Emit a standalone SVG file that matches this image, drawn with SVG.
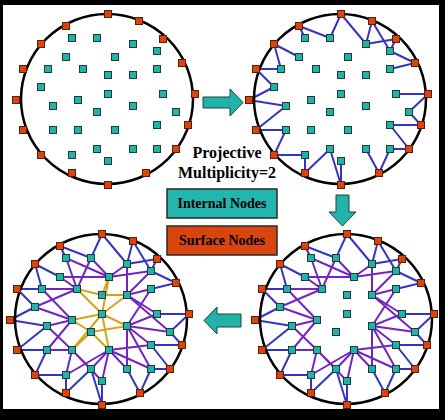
<svg xmlns="http://www.w3.org/2000/svg" width="445" height="420" viewBox="0 0 445 420">
<style>
.t{fill:#21b3a6;stroke:#1c3b3a;stroke-width:1}
.s{fill:#d9440f;stroke:#5a1e05;stroke-width:1}
.rim{fill:none;stroke:#000;stroke-width:2.5}
.b{fill:none;stroke:#3434c4;stroke-width:2}
.p{fill:none;stroke:#7424c4;stroke-width:2}
.y{fill:none;stroke:#d6a41c;stroke-width:2}
.arw{fill:#22b3a8;stroke:#1c4040;stroke-width:1}
.lab{font-family:"Liberation Serif","Times New Roman",serif;font-weight:bold;fill:#000}
.box{stroke:#2a2a2a;stroke-width:1.5}
</style>
<defs>
<rect id="tn" class="t" x="-3.5" y="-3.5" width="7" height="7"/>
<rect id="sn" class="s" x="-3.5" y="-3.5" width="7" height="7"/>
<g id="internal">
<use id="i0" href="#tn" x="72" y="38"/><use id="i1" href="#tn" x="97" y="38"/><use id="i2" href="#tn" x="133" y="44"/><use id="i3" href="#tn" x="157" y="51"/>
<use id="i4" href="#tn" x="66" y="57"/><use id="i5" href="#tn" x="115" y="57"/><use id="i6" href="#tn" x="48" y="69"/><use id="i7" href="#tn" x="83" y="69"/>
<use id="i8" href="#tn" x="108" y="75"/><use id="i9" href="#tn" x="133" y="75"/><use id="i10" href="#tn" x="157" y="69"/><use id="i11" href="#tn" x="41" y="87"/>
<use id="i12" href="#tn" x="108" y="94"/><use id="i13" href="#tn" x="163" y="94"/><use id="i14" href="#tn" x="78" y="100"/><use id="i15" href="#tn" x="53" y="106"/>
<use id="i16" href="#tn" x="133" y="106"/><use id="i17" href="#tn" x="97" y="112"/><use id="i18" href="#tn" x="176" y="112"/><use id="i19" href="#tn" x="53" y="130"/>
<use id="i20" href="#tn" x="78" y="130"/><use id="i21" href="#tn" x="115" y="130"/><use id="i22" href="#tn" x="157" y="125"/><use id="i23" href="#tn" x="97" y="149"/>
<use id="i24" href="#tn" x="133" y="149"/><use id="i25" href="#tn" x="157" y="149"/><use id="i26" href="#tn" x="72" y="155"/><use id="i27" href="#tn" x="108" y="161"/>
</g>
<g id="surface">
<use id="s0" href="#sn" x="108" y="14"/><use id="s1" href="#sn" x="139" y="21"/><use id="s2" href="#sn" x="163" y="39"/><use id="s3" href="#sn" x="182" y="63"/>
<use id="s4" href="#sn" x="195" y="94"/><use id="s5" href="#sn" x="188" y="125"/><use id="s6" href="#sn" x="176" y="149"/><use id="s7" href="#sn" x="146" y="173"/>
<use id="s8" href="#sn" x="108" y="185"/><use id="s9" href="#sn" x="72" y="173"/><use id="s10" href="#sn" x="41" y="155"/><use id="s11" href="#sn" x="23" y="130"/>
<use id="s12" href="#sn" x="16" y="100"/><use id="s13" href="#sn" x="23" y="69"/><use id="s14" href="#sn" x="41" y="44"/><use id="s15" href="#sn" x="66" y="26"/>
</g>
<ellipse id="rim" class="rim" cx="107" cy="99" rx="86" ry="85"/>
<path id="blue" class="b" d="M108 14L97 38M108 14L133 44M139 21L133 44M139 21L157 51M163 39L157 51M163 39L133 44M182 63L157 51M182 63L157 69M195 94L163 94M195 94L176 112M188 125L176 112M188 125L157 125M176 149L157 125M176 149L157 149M146 173L157 149M146 173L133 149M108 185L108 161M108 185L97 149M72 173L72 155M72 173L97 149M41 155L72 155M41 155L53 130M23 130L53 130M23 130L53 106M16 100L53 106M16 100L41 87M23 69L41 87M23 69L48 69M41 44L48 69M41 44L66 57M66 26L72 38M66 26L97 38"/>
<path id="purple" class="p" d="M72 38L83 69M72 38L115 57M97 38L115 57M97 38L83 69M133 44L115 57M133 44L133 75M157 51L133 75M157 51L115 57M66 57L83 69M66 57L115 57M48 69L83 69M48 69L78 100M157 69L133 75M157 69L133 106M41 87L83 69M41 87L78 100M163 94L133 106M163 94L133 75M53 106L78 100M53 106L78 130M176 112L133 106M176 112L133 75M53 130L78 130M53 130L78 100M157 125L133 106M157 125L115 130M97 149L115 130M97 149L78 130M133 149L115 130M133 149L133 106M157 149L115 130M157 149L133 106M72 155L78 130M72 155L115 130M108 161L115 130M108 161L78 130"/>
<path id="yellow" class="y" d="M115 57L108 75M115 57L108 94M83 69L108 75M83 69L108 94M133 75L108 75M133 75L108 94M78 100L97 112M78 100L108 94M133 106L108 94M133 106L97 112M78 130L97 112M78 130L108 94M115 130L97 112M115 130L108 94"/>
</defs>
<rect x="0" y="0" width="445" height="420" fill="#000"/>
<rect x="3" y="5" width="436" height="404" fill="#fff"/>
<g id="connectors">
<use href="#blue" transform="translate(233,0)"/>
<use href="#blue" transform="translate(239,220)"/>
<use href="#purple" transform="translate(239,220)"/>
<use href="#blue" transform="translate(-6,220)"/>
<use href="#purple" transform="translate(-6,220)"/>
<use href="#yellow" transform="translate(-6,220)"/>
</g>
<g id="panel1"><use href="#rim"/><use href="#internal"/><use href="#surface"/></g>
<g id="panel2" transform="translate(233,0)"><use href="#rim"/><use href="#internal"/><use href="#surface"/></g>
<g id="panel3" transform="translate(239,220)"><use href="#rim"/><use href="#internal"/><use href="#surface"/></g>
<g id="panel4" transform="translate(-6,220)"><use href="#rim"/><use href="#internal"/><use href="#surface"/></g>
<g id="arrows">
<path class="arw" d="M203 97H230V89L243 102.5L230 116V108H203Z"/>
<path class="arw" d="M336 195H349V212H356L342.5 226L329 212H336Z"/>
<path class="arw" d="M241 314H217V307L204 320.5L217 334V327H241Z"/>
</g>
<g id="caption">
<text class="lab" x="227" y="158" font-size="16" text-anchor="middle">Projective</text>
<text class="lab" x="227" y="178" font-size="16" text-anchor="middle">Multiplicity=2</text>
</g>
<g id="legend-internal">
<rect class="box" x="167" y="189" width="110" height="29" fill="#22b6ae"/>
<text class="lab" x="222" y="208" font-size="14" text-anchor="middle" fill="#111">Internal Nodes</text>
</g>
<g id="legend-surface">
<rect class="box" x="167" y="226" width="110" height="29" fill="#d9450f"/>
<text class="lab" x="222" y="245" font-size="14" text-anchor="middle">Surface Nodes</text>
</g>
</svg>
